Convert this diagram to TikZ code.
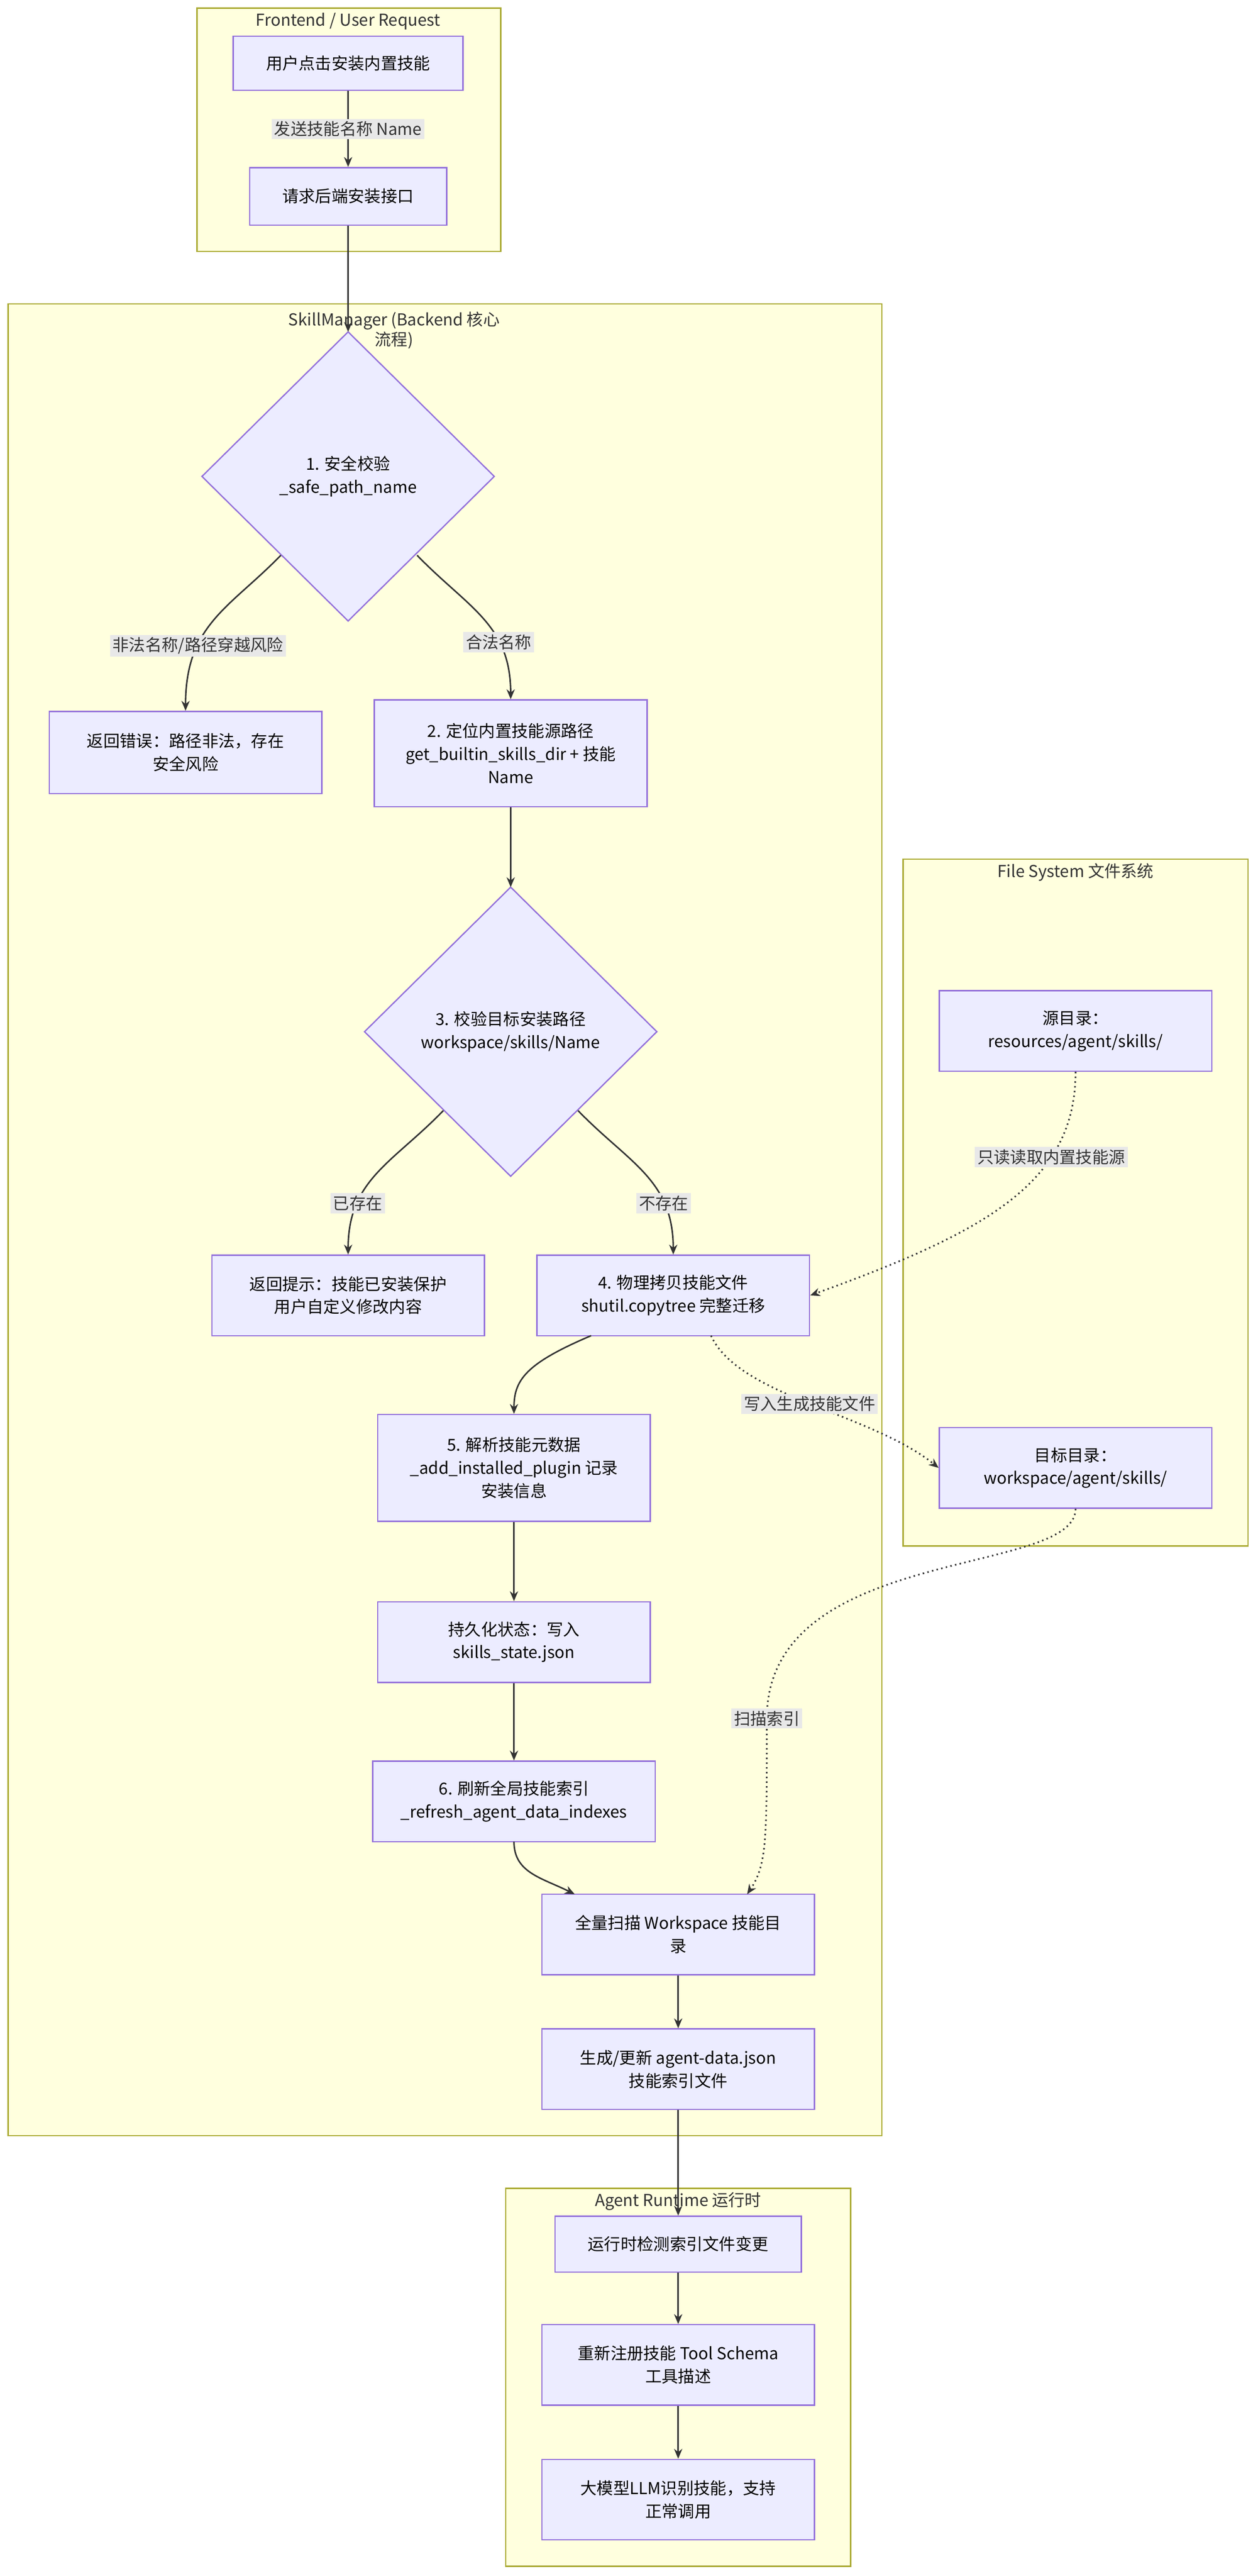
\documentclass[tikz,border=0pt]{standalone}
\usepackage{fontspec}
\setmainfont{Noto Sans CJK SC}
\usetikzlibrary{arrows.meta}
\definecolor{cfill}{HTML}{FFFFDE}\definecolor{cdraw}{HTML}{AAAA33}
\definecolor{nfill}{HTML}{ECECFF}\definecolor{ndraw}{HTML}{9370DB}
\definecolor{ecol}{HTML}{333333}\definecolor{lbg}{HTML}{E8E8E8}
\tikzset{
 clus/.style={draw=cdraw,fill=cfill,line width=0.8pt},
 ctitle/.style={font=\fontsize{10}{12}\selectfont,align=center,text=ecol},
 box/.style={draw=ndraw,fill=nfill,line width=0.8pt,align=center,inner sep=0pt,font=\fontsize{10}{14}\selectfont,text=black},
 dia/.style={draw=ndraw,fill=nfill,line width=0.8pt},
 dtext/.style={align=center,font=\fontsize{10}{14}\selectfont},
 edge/.style={draw=ecol,line width=0.9pt,-{Stealth[length=6pt,width=5pt]}},
 dedge/.style={edge,dotted,line width=1pt},
 lab/.style={fill=lbg,inner sep=1.5pt,font=\fontsize{10}{12}\selectfont,text=ecol}
}
\begin{document}
\begin{tikzpicture}[x=1pt,y=-1pt]
\useasboundingbox (0,0) rectangle (766,1568);
% clusters
\draw[clus] (120,5) rectangle (305,153);
\node[ctitle] at (212,13) {Frontend / User Request};
\draw[clus] (5,185) rectangle (537,1300);
\node[ctitle] at (240,201) {SkillManager (Backend 核心\\流程)};
\draw[clus] (550,523) rectangle (760,941);
\node[ctitle] at (655,531) {File System 文件系统};
\draw[clus] (308,1332) rectangle (518,1562);
\node[ctitle] at (413,1340) {Agent Runtime 运行时};
% nodes
\node[box,minimum width=140,minimum height=33] (a) at (212,38.5) {用户点击安装内置技能};
\node[box,minimum width=120,minimum height=35] (b) at (212,119.5) {请求后端安装接口};
\draw[dia] (212,202) -- (301,290) -- (212,378) -- (123,290) -- cycle;
\node[dtext] (d1) at (212,290) {1. 安全校验\\\_safe\_path\_name};
\coordinate (d1t) at (212,202);
\node[box,minimum width=166,minimum height=50] (e1) at (113,458) {返回错误：路径非法，存在\\安全风险};
\node[box,minimum width=166,minimum height=65] (n2) at (311,458.5) {2. 定位内置技能源路径\\get\_builtin\_skills\_dir + 技能\\Name};
\draw[dia] (311,540) -- (400,628) -- (311,716) -- (222,628) -- cycle;
\node[dtext] (d3) at (311,628) {3. 校验目标安装路径\\workspace/skills/Name};
\coordinate (d3t) at (311,540);
\node[box,minimum width=166,minimum height=49] (e2) at (212,788.5) {返回提示：技能已安装保护\\用户自定义修改内容};
\node[box,minimum width=166,minimum height=49] (n4) at (410,788.5) {4. 物理拷贝技能文件\\shutil.copytree 完整迁移};
\node[box,minimum width=166,minimum height=65] (n5) at (313,893.5) {5. 解析技能元数据\\\_add\_installed\_plugin 记录\\安装信息};
\node[box,minimum width=166,minimum height=49] (p) at (313,999.5) {持久化状态：写入\\skills\_state.json};
\node[box,minimum width=172,minimum height=49] (n6) at (313,1096.5) {6. 刷新全局技能索引\\\_refresh\_agent\_data\_indexes};
\node[box,minimum width=166,minimum height=49] (s) at (413,1177.5) {全量扫描 Workspace 技能目\\录};
\node[box,minimum width=166,minimum height=49] (g) at (413,1259.5) {生成/更新 agent-data.json\\技能索引文件};
\node[box,minimum width=166,minimum height=49] (src) at (655,627.5) {源目录：\\resources/agent/skills/};
\node[box,minimum width=166,minimum height=49] (tgt) at (655,893.5) {目标目录：\\workspace/agent/skills/};
\node[box,minimum width=150,minimum height=34] (r1) at (413,1366) {运行时检测索引文件变更};
\node[box,minimum width=166,minimum height=49] (r2) at (413,1439.5) {重新注册技能 Tool Schema\\工具描述};
\node[box,minimum width=166,minimum height=49] (r3) at (413,1521.5) {大模型LLM识别技能，支持\\正常调用};
% edges
\draw[edge] (a) -- (b) node[lab,midway] {发送技能名称 Name};
\draw[edge] (b) -- (d1t);
\draw[edge] (171,338) .. controls (140,370) and (113,380) .. (e1.north) node[lab,pos=0.68] {非法名称/路径穿越风险};
\draw[edge] (254,338) .. controls (285,370) and (311,380) .. (n2.north) node[lab,pos=0.68] {合法名称};
\draw[edge] (n2) -- (d3t);
\draw[edge] (270,676) .. controls (239,708) and (212,718) .. (e2.north) node[lab,pos=0.72] {已存在};
\draw[edge] (352,676) .. controls (383,708) and (410,718) .. (n4.north) node[lab,pos=0.72] {不存在};
\draw[dedge] (src.south) .. controls (655,720) and (600,750) .. (n4.east) node[lab,pos=0.3] {只读读取内置技能源};
\draw[dedge] (433,813) .. controls (450,850) and (530,860) .. (tgt.west) node[lab,pos=0.5] {写入生成技能文件};
\draw[edge] (360,813) .. controls (320,830) and (313,840) .. (n5.north);
\draw[edge] (n5) -- (p);
\draw[edge] (p) -- (n6);
\draw[edge] (313,1121) .. controls (313,1140) and (330,1143) .. (350,1153);
\draw[dedge] (tgt.south) .. controls (655,960) and (467,940) .. (467,1046) .. controls (467,1120) and (467,1135) .. (455,1153);
\node[lab] at (467,1046) {扫描索引};
\draw[edge] (s) -- (g);
\draw[edge] (g) -- (r1);
\draw[edge] (r1) -- (r2);
\draw[edge] (r2) -- (r3);
\end{tikzpicture}
\end{document}
